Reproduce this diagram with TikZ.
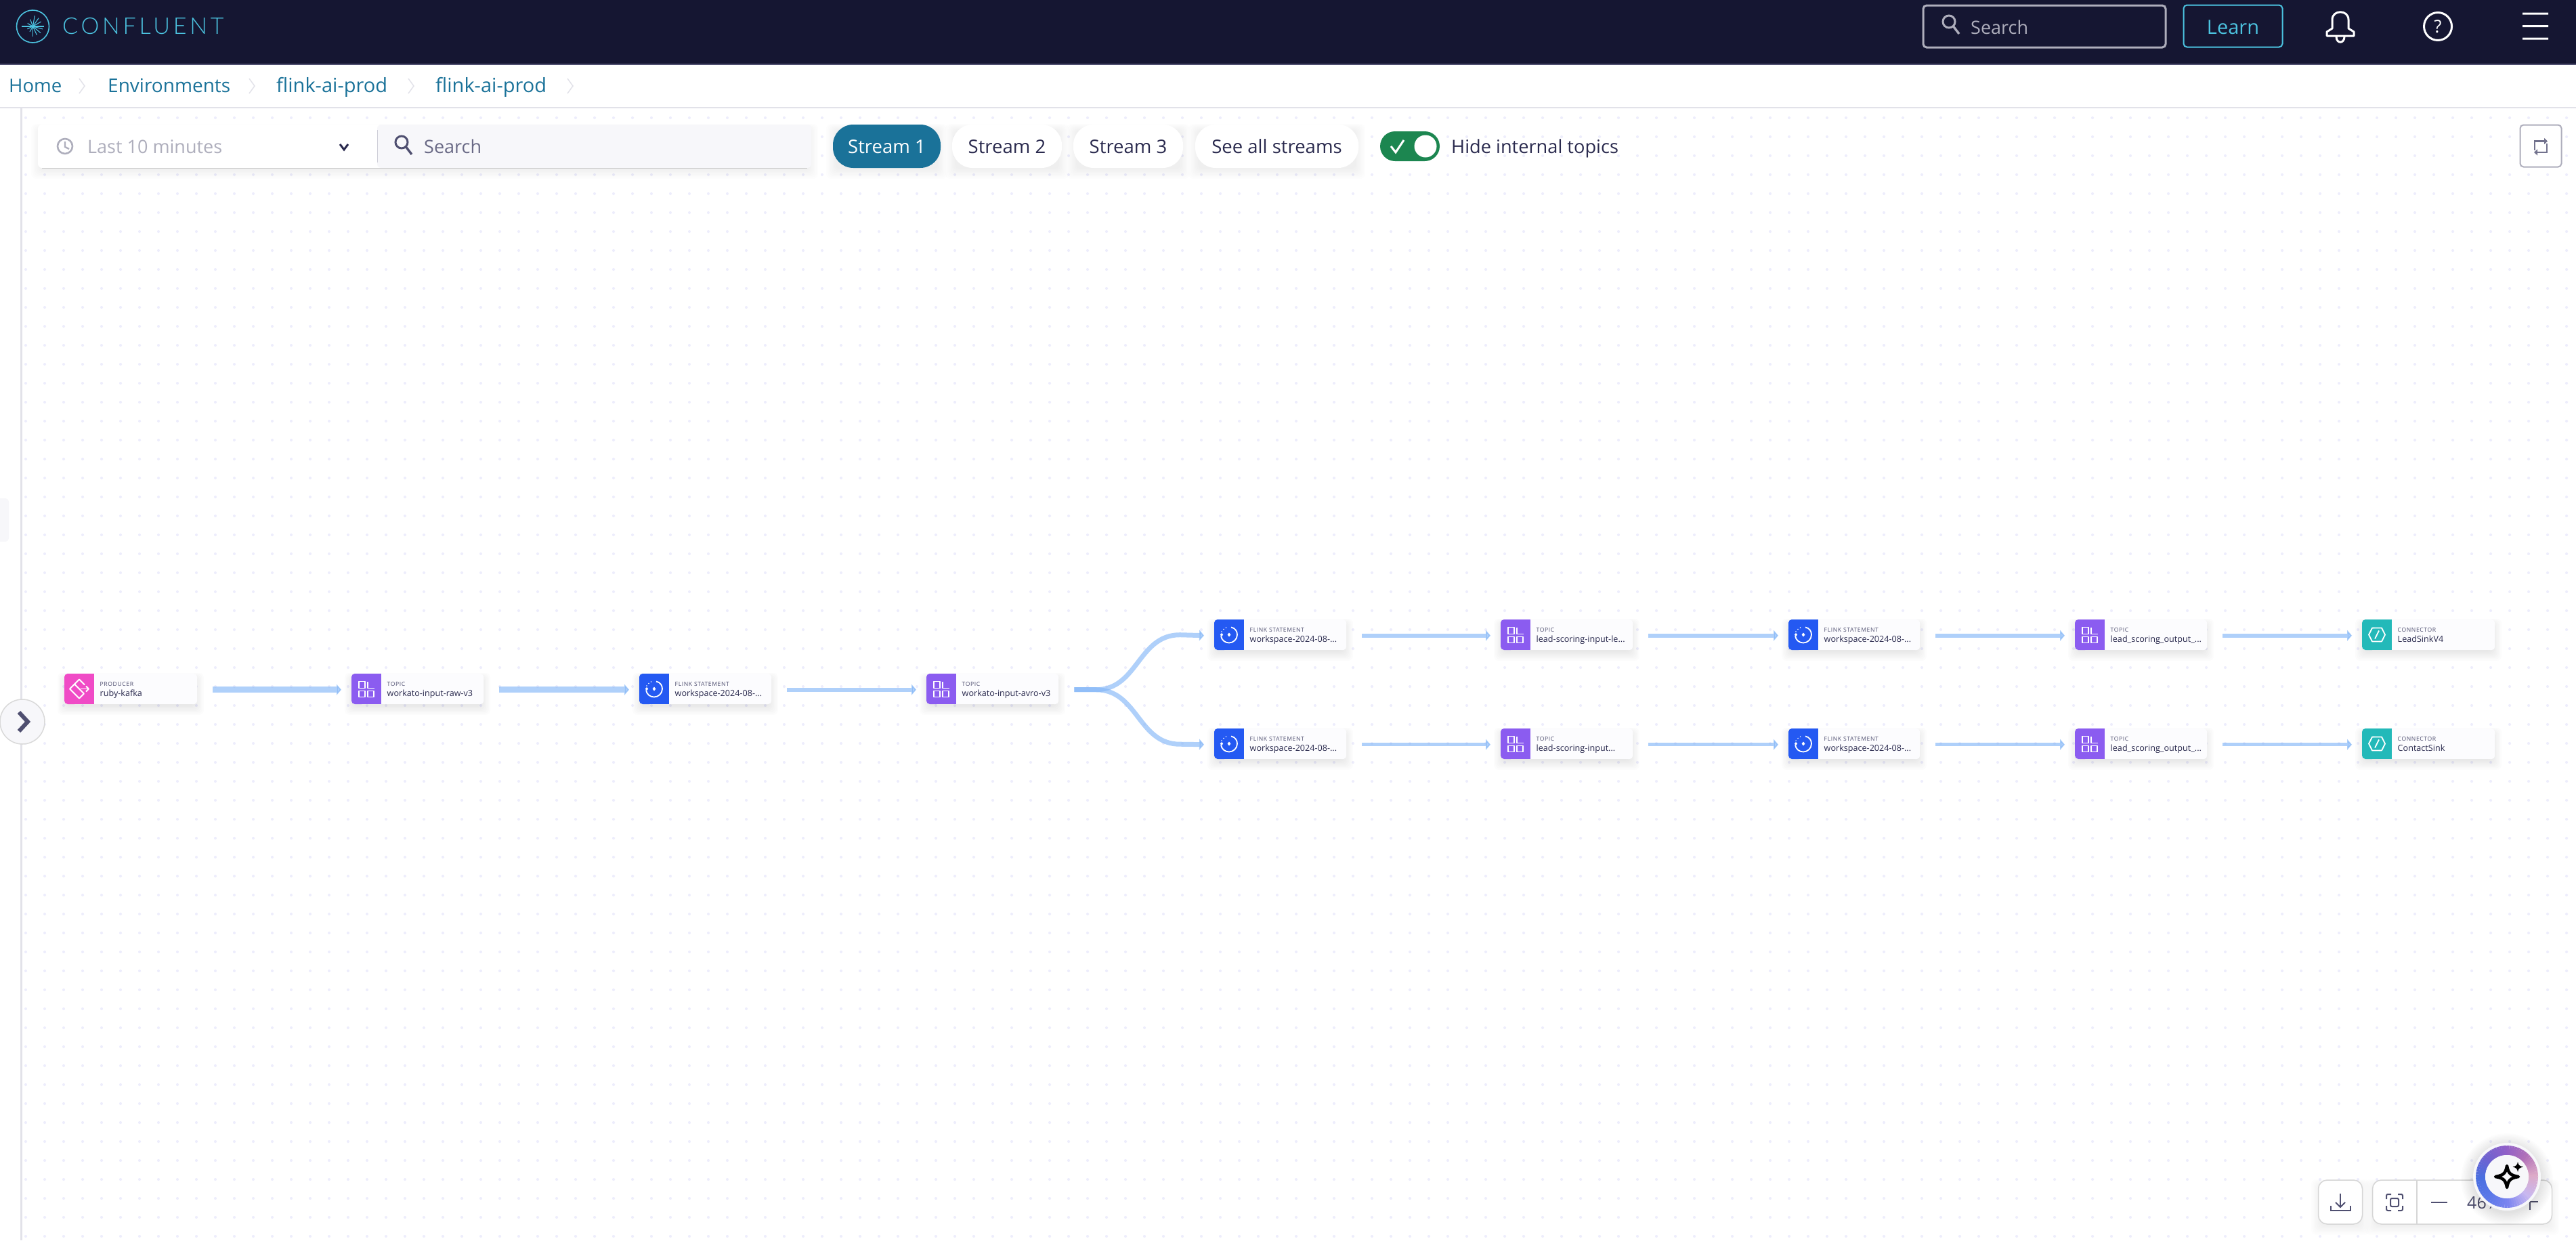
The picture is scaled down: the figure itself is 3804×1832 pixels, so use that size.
\documentclass[tikz,border=0pt]{standalone}
\usepackage{fontspec}
\setmainfont{Open Sans}
\newfontfamily\catfont[LetterSpace=7]{Open Sans}
\newfontfamily\logofont[LetterSpace=14]{Lato Light}
\usetikzlibrary{arrows.meta}
\definecolor{navy}{HTML}{151632}
\definecolor{navyline}{HTML}{4F4F70}
\definecolor{cyanc}{HTML}{4CC3E0}
\definecolor{linkc}{HTML}{1A7299}
\definecolor{rulec}{HTML}{E2E2E9}
\definecolor{dotc}{HTML}{EDEDFC}
\definecolor{inkc}{HTML}{2A2A4E}
\definecolor{midc}{HTML}{4F4F70}
\definecolor{softc}{HTML}{AEAEBC}
\definecolor{panelc}{HTML}{F7F7FA}
\definecolor{flowc}{HTML}{7FB4F7}
\definecolor{topicc}{HTML}{8B5CF0}
\definecolor{flinkc}{HTML}{2459F2}
\definecolor{prodc}{HTML}{F04BC6}
\definecolor{connc}{HTML}{23B9B9}
\definecolor{cardc}{HTML}{FCFCFE}
\definecolor{greenc}{HTML}{1C8650}
\tikzset{
  fs/.style={font=\fontsize{#1}{#1}\selectfont},
  lbl/.style={inner sep=0pt,anchor=base west},
  icn/.style={draw=white,line width=1.8pt,line join=round},
  flow/.style={draw=flowc,opacity=.62,line width=#1,-{Triangle[length=7pt,width=16pt]}},
  pill/.style={rectangle,rounded corners=30pt,minimum height=64pt,inner sep=0pt,text height=24pt,text depth=4pt,fs=27.5},
}
\newcommand{\softshadow}[3]{% width height strength
  \foreach \s in {1,...,8}{
    \fill[black,opacity=#3,rounded corners=7pt] ({-2*\s+6},{10-1.4*\s}) rectangle ({#1+2*\s-6},{#2+2*\s});
  }}
\newcommand{\topicicon}{
  \draw[icn] (-11,-11) rectangle (-2,-1);
  \draw[icn] (2,-11) -- (2,-1) -- (12,-1);
  \draw[icn] (-11,3) rectangle (-2,12);
  \draw[icn] (2,3) rectangle (11,12);}
\newcommand{\flinkicon}{
  \draw[icn] (3,-11) .. controls (9,-10) and (12,-5) .. (12,0) .. controls (12,7) and (6,12) .. (0,12) .. controls (-6,12) and (-11,8) .. (-12,2);
  \fill[white] (-8,-8) circle[radius=.8] (-11,-4.5) circle[radius=.8] (-4.5,-10.5) circle[radius=.8];
  \fill[white] (0,-3) -- (2.4,0) -- (0,3) -- (-2.4,0) -- cycle;
  \fill[white] (-11,-2.5) -- (-8.8,0) -- (-11,2.5) -- (-13.2,0) -- cycle;}
\newcommand{\producericon}{
  \draw[icn] (8,-6) -- (0,-14) -- (-14,0) -- (0,14) -- (7,7) -- (-7,-7) -- (0,-14);
  \draw[icn] (2,0) -- (14,0);
  \draw[icn] (10,-4) -- (14,0) -- (10,4);}
\newcommand{\connicon}{
  \draw[icn] (-4,-10) -- (-7,-10) -- (-12,0) -- (-7,10) -- (5,10);
  \draw[icn] (-5,-10) -- (7,-10) -- (12,0) -- (7,10) -- (4,10);
  \draw[icn] (3,-6) -- (-3,6);}
\newcommand{\card}[8]{% name, left, top, width, colour, icon, category, label
  \begin{scope}[shift={(#2,#3)}]
    \softshadow{#4}{45}{.010}
    \node[rectangle,fill=cardc,rounded corners=5pt,minimum width=#4pt,minimum height=45pt,inner sep=0pt,anchor=north west] (#1) at (0,0) {};
    \fill[#5,rounded corners=5pt] (0,0) rectangle (20,45);
    \fill[#5] (10,0) rectangle (44,45);
    \begin{scope}[shift={(22,22.5)}] #6 \end{scope}
    \node[lbl,fs=8.6,text=midc] (#1-cat) at (52.5,18) {\catfont #7};
    \node[lbl,fs=12.6,text=inkc] (#1-lab) at (52.5,33) {#8};
  \end{scope}}
\newcommand{\conn}[3]{\draw[flow=#3] ([shift={(23pt,-1pt)}]#1.east) -- ([shift={(-15pt,-1pt)}]#2.west);}
\newcommand{\magnifier}[3]{% x y colour
  \draw[#3,line width=3pt] (#1-3,#2-4) circle[radius=9];
  \draw[#3,line width=3.4pt] (#1+3.5,#2+3) -- (#1+12,#2+14);}
\newcommand{\crumbsep}[1]{\draw[rulec,line width=1.5pt] (#1-4,116) -- (#1+4,127) -- (#1-4,138);}
\begin{document}
\begin{tikzpicture}[x=1pt,y=-1pt]
\useasboundingbox (0,0) rectangle (3804,1832);
\fill[white] (0,0) rectangle (3804,1832);
% dotted canvas
\foreach \y in {174,202,...,1832}{
  \draw[dotc,line width=4pt,line cap=round,dash pattern=on 0pt off 28pt] (38,\y) -- (3804,\y);
}
\fill[panelc,rounded corners=5pt] (-10,736) rectangle (13,800);
\fill[rulec] (29.5,160) rectangle (33,1832);
% header
\fill[navy] (0,0) rectangle (3804,94);
\fill[navyline] (0,94) rectangle (3804,96);
\fill[rulec] (0,158) rectangle (3804,160);
% logo
\node[circle,draw=cyanc,line width=1.6pt,minimum size=48pt,inner sep=0pt] (logo) at (48.5,39) {};
\foreach \a/\r in {0/15,30/14,55/15,80/16,110/11,150/9,180/17,205/9,240/9,270/15,295/14,320/15,345/15}{
  \draw[cyanc,line width=1.1pt] (48.5,39) -- ++({\r*cos(\a)},{-\r*sin(\a)});}
\draw[cyanc,line width=2pt] (33,39) -- (65,39);
\node[lbl,fs=34,text=cyanc] (brand) at (92,50.5) {\logofont CONFLUENT};
% header right
\node[rectangle,draw=softc,line width=3pt,rounded corners=5pt,minimum width=358pt,minimum height=62pt,inner sep=0pt] (topsearch) at (3019,39) {};
\magnifier{2881}{36}{softc}
\node[lbl,fs=27,text=softc] (topsearchtxt) at (2910,50) {Search};
\node[rectangle,draw=cyanc,line width=2pt,rounded corners=5pt,minimum width=146pt,minimum height=62pt,inner sep=0pt,text=cyanc,fs=29,text height=25pt,text depth=2pt] (learn) at (3297.5,38.5) {Learn};
\draw[white,line width=3pt,line join=round] (3436,53) -- (3476,53) -- (3476,47) -- (3468,42) -- (3468,29) .. controls (3468,14) and (3444,14) .. (3444,29) -- (3444,42) -- (3436,47) -- cycle;
\draw[white,line width=3pt] (3450,54) .. controls (3450,65) and (3462,65) .. (3462,54);
\node[circle,draw=white,line width=3pt,minimum size=41pt,inner sep=0pt,text=white,fs=26] (help) at (3600,39) {?};
\fill[white] (3725,18.5) rectangle (3763,21.5) (3725,37) rectangle (3763,40) (3725,55.5) rectangle (3763,58.5);
% breadcrumbs
\node[lbl,fs=27.6,text=linkc] (home) at (13,136) {Home};
\node[lbl,fs=28,text=linkc] (envs) at (159,136) {Environments};
\node[lbl,fs=29,text=linkc] (env) at (408,136) {flink-ai-prod};
\node[lbl,fs=29,text=linkc] (cluster) at (643,136) {flink-ai-prod};
\crumbsep{121}\crumbsep{372}\crumbsep{607}\crumbsep{842}
% toolbar
\begin{scope}[shift={(56,184)}]\softshadow{1142}{64}{.006}\end{scope}
\fill[white,rounded corners=6pt] (56,184) rectangle (600,248);
\fill[panelc,rounded corners=6pt] (557,184) rectangle (1198,248);
\draw[softc!60,line width=1pt] (557,192) -- (557,240);
\fill[black!22] (62,248) rectangle (1192,249.2);
\node[circle,draw=softc,line width=2.6pt,minimum size=22pt,inner sep=0pt] (clock) at (96,216) {};
\draw[softc,line width=2.4pt] (96,209) -- (96,217) -- (102,220);
\node[lbl,fs=27,text=softc] (range) at (129,226) {Last 10 minutes};
\draw[inkc,line width=3pt] (502,213) -- (508,221) -- (514,213);
\magnifier{596}{214}{midc}
\node[lbl,fs=27,text=midc!85] (searchtxt) at (626,226) {Search};
% stream pills
\begin{scope}[shift={(1230,184)}]\softshadow{159}{64}{.006}\end{scope}
\begin{scope}[shift={(1406,184)}]\softshadow{162}{64}{.006}\end{scope}
\begin{scope}[shift={(1585,184)}]\softshadow{162}{64}{.006}\end{scope}
\begin{scope}[shift={(1765,184)}]\softshadow{241}{64}{.006}\end{scope}
\node[pill,fill=linkc,text=white,minimum width=159pt] (s1) at (1309.5,216) {Stream 1};
\node[pill,fill=white,text=inkc,minimum width=162pt] (s2) at (1487,216) {Stream 2};
\node[pill,fill=white,text=inkc,minimum width=162pt] (s3) at (1666,216) {Stream 3};
\node[pill,fill=white,text=inkc,minimum width=241pt] (s4) at (1885.5,216) {See all streams};
\node[rectangle,rounded corners=22pt,fill=greenc,minimum width=88pt,minimum height=44pt,inner sep=0pt] (toggle) at (2082,216) {};
\node[circle,fill=white,minimum size=33pt,inner sep=0pt] (knob) at (2105,216) {};
\draw[white,line width=3pt] (2054,216) -- (2061,225) -- (2073,207);
\node[lbl,fs=27.2,text=inkc] (hide) at (2143,226) {Hide internal topics};
% refresh button
\node[rectangle,draw=softc,line width=2pt,fill=white,rounded corners=5pt,minimum width=61pt,minimum height=62pt,inner sep=0pt] (refresh) at (3752,215.5) {};
\draw[midc!80,line width=2.6pt,-{Triangle[length=5pt,width=9pt]}] (3743,222) -- (3743,208.5) -- (3762,208.5);
\draw[midc!80,line width=2.6pt,-{Triangle[length=5pt,width=9pt]}] (3761,212) -- (3761,225) -- (3742,225);
% cards
\card{n1}{95}{995}{196}{prodc}{\producericon}{PRODUCER}{ruby-kafka}
\card{n2}{519}{995}{195}{topicc}{\topicicon}{TOPIC}{workato-input-raw-v3}
\card{n3}{944}{995}{195}{flinkc}{\flinkicon}{FLINK STATEMENT}{workspace-2024-08-...}
\card{n4}{1368}{995}{195}{topicc}{\topicicon}{TOPIC}{workato-input-avro-v3}
\card{a1}{1793}{915}{195}{flinkc}{\flinkicon}{FLINK STATEMENT}{workspace-2024-08-...}
\card{a2}{2216}{915}{195}{topicc}{\topicicon}{TOPIC}{lead-scoring-input-le...}
\card{a3}{2641}{915}{194}{flinkc}{\flinkicon}{FLINK STATEMENT}{workspace-2024-08-...}
\card{a4}{3064}{915}{195}{topicc}{\topicicon}{TOPIC}{lead\_scoring\_output\_...}
\card{a5}{3488}{915}{196}{connc}{\connicon}{CONNECTOR}{LeadSinkV4}
\card{b1}{1793}{1076}{195}{flinkc}{\flinkicon}{FLINK STATEMENT}{workspace-2024-08-...}
\card{b2}{2216}{1076}{195}{topicc}{\topicicon}{TOPIC}{lead-scoring-input...}
\card{b3}{2641}{1076}{194}{flinkc}{\flinkicon}{FLINK STATEMENT}{workspace-2024-08-...}
\card{b4}{3064}{1076}{195}{topicc}{\topicicon}{TOPIC}{lead\_scoring\_output\_...}
\card{b5}{3488}{1076}{196}{connc}{\connicon}{CONNECTOR}{ContactSink}
% connectors
\conn{n1}{n2}{9pt}
\conn{n2}{n3}{9pt}
\conn{n3}{n4}{6pt}
\conn{a1}{a2}{6pt}
\conn{a2}{a3}{6pt}
\conn{a3}{a4}{6pt}
\conn{a4}{a5}{6pt}
\conn{b1}{b2}{5pt}
\conn{b2}{b3}{5pt}
\conn{b3}{b4}{5pt}
\conn{b4}{b5}{5pt}
\draw[flow=7pt] ([shift={(23pt,-1pt)}]n4.east) -- ++(32,0) .. controls +(62,0) and +(-62,0) .. ++(124,-81) -- ([shift={(-15pt,-1pt)}]a1.west);
\draw[flow=7pt] ([shift={(23pt,-1pt)}]n4.east) -- ++(32,0) .. controls +(62,0) and +(-62,0) .. ++(124,80.5) -- ([shift={(-15pt,-1pt)}]b1.west);
% sidebar toggle
\node[circle,fill=panelc,draw=black!15,line width=1.5pt,minimum size=66pt,inner sep=0pt] (collapse) at (33,1066) {};
\draw[midc,line width=6pt] (28,1052) -- (41,1066) -- (28,1080);
% bottom-right controls
\begin{scope}[shift={(3423,1743)}]\softshadow{66}{65}{.006}\end{scope}
\begin{scope}[shift={(3503,1743)}]\softshadow{266}{65}{.006}\end{scope}
\node[rectangle,draw=black!16,line width=1.5pt,fill=white,rounded corners=13pt,minimum width=65pt,minimum height=65pt,inner sep=0pt] (download) at (3456,1775.5) {};
\draw[midc,line width=2pt] (3441.5,1781) -- (3441.5,1788) -- (3470.5,1788) -- (3470.5,1781);
\draw[midc,line width=2pt] (3456,1763) -- (3456,1783);
\draw[midc,line width=2pt] (3449,1776) -- (3456,1783) -- (3463,1776);
\node[rectangle,draw=black!16,line width=1.5pt,fill=white,rounded corners=13pt,minimum width=265pt,minimum height=65pt,inner sep=0pt] (zoombar) at (3636,1775.5) {};
\draw[black!16,line width=1.5pt] (3569,1743) -- (3569,1808);
\draw[midc,line width=2pt,rounded corners=2pt] (3524,1771) -- (3524,1764) -- (3531,1764);
\draw[midc,line width=2pt,rounded corners=2pt] (3541,1764) -- (3548,1764) -- (3548,1771);
\draw[midc,line width=2pt,rounded corners=2pt] (3548,1781) -- (3548,1788) -- (3541,1788);
\draw[midc,line width=2pt,rounded corners=2pt] (3531,1788) -- (3524,1788) -- (3524,1781);
\draw[midc,line width=2pt,rounded corners=2pt] (3530,1770) rectangle (3542,1782);
\draw[midc,line width=2pt] (3590,1776) -- (3614,1776);
\node[lbl,fs=25,text=midc] (pct) at (3643,1785) {46\%};
\draw[midc,line width=2pt] (3735.5,1787) -- (3735.5,1775) -- (3748,1775);
% assistant badge
\begin{scope}[shift={(3702,1738)}]
\foreach \s in {1,...,10}{\fill[black,opacity=.012] (0,4) circle[radius={48+2*\s}];}
\fill[panelc] (0,0) circle[radius=50];
\foreach \A/\ca/\cb in {0/DDAAC8/B070B8,45/B070B8/9060C8,90/9060C8/6F62D0,135/6F62D0/4A6FE0,180/4A6FE0/5A78E8,225/5A78E8/7C84F0,270/7C84F0/C8B8F0,315/C8B8F0/DDAAC8}{
  \definecolor{ca}{HTML}{\ca}\definecolor{cb}{HTML}{\cb}
  \foreach \p in {0,1,...,8}{
    \pgfmathsetmacro{\pc}{100-\p*100/9}
    \pgfmathsetmacro{\aa}{\A+\p*5}
    \pgfmathsetmacro{\ab}{\A+\p*5+5.6}
    \draw[line width=14pt,draw=ca!\pc!cb] ({39*cos(\aa)},{-39*sin(\aa)}) -- ({39*cos(\ab)},{-39*sin(\ab)});
  }}
\node[circle,fill=panelc,minimum size=64pt,inner sep=0pt] (badge) at (0,0) {};
\draw[black,fill=panelc,line width=4.5pt,line join=round] (0,-16) .. controls (2,-5) and (5,-2) .. (17,0) .. controls (5,2) and (2,5) .. (0,16) .. controls (-2,5) and (-5,2) .. (-17,0) .. controls (-5,-2) and (-2,-5) .. (0,-16) -- cycle;
\fill[black] (16,-22) .. controls (17,-17) and (18,-16) .. (24,-14.5) .. controls (18,-13) and (17,-12) .. (16,-7) .. controls (15,-12) and (14,-13) .. (8.5,-14.5) .. controls (14,-16) and (15,-17) .. (16,-22) -- cycle;
\end{scope}
\end{tikzpicture}
\end{document}
